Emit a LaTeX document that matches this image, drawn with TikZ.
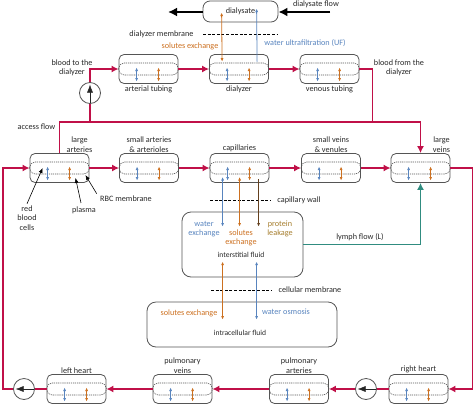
\documentclass[tikz,border=0pt]{standalone}
\usepackage{fontspec}
\setmainfont{Carlito}
\usetikzlibrary{arrows.meta}
\definecolor{crim}{RGB}{192,16,72}
\definecolor{wblue}{RGB}{88,132,190}
\definecolor{sorange}{RGB}{204,112,32}
\definecolor{pbrown}{RGB}{100,64,30}
\definecolor{ptext}{RGB}{165,125,45}
\definecolor{lteal}{RGB}{48,140,128}
\definecolor{boxgray}{RGB}{85,85,85}
\definecolor{txt}{RGB}{40,40,40}

\begin{document}
\begin{tikzpicture}[x=1pt,y=-1pt,font=\fontsize{8.2}{9.6}\selectfont,text=txt,
  >={Latex[length=3.5pt,width=3pt]},
  comp/.style={draw=boxgray,line width=0.8pt,rounded corners=5pt,minimum width=59pt,minimum height=29pt,inner sep=0pt},
  band/.style={draw=boxgray,line width=0.6pt,dash pattern=on 1.2pt off 0.9pt,rounded corners=5.5pt},
  lbl/.style={align=center,inner sep=1.6pt},
  toplbl/.style={lbl,yshift=-1pt},
  wat/.style={draw=wblue,line width=0.8pt},
  sol/.style={draw=sorange,line width=0.8pt},
  rl/.style={draw=crim,line width=1.8pt,-{Latex[length=7pt,width=7pt]}},
  rp/.style={draw=crim,line width=1.8pt},
  pump/.style={circle,draw=boxgray,line width=0.8pt,fill=white,minimum size=21pt,inner sep=0pt},
  pumparr/.style={draw=black!85,line width=0.5pt,-{Latex[length=8pt,width=6pt]}},
  blk/.style={draw=black,line width=2.2pt,-{Latex[length=9pt,width=9pt]}},
  memb/.style={draw=black,line width=0.9pt,dash pattern=on 3pt off 1.6pt},
  note/.style={draw=black,line width=0.6pt,-{Latex[length=5pt,width=4pt]}}]
  \useasboundingbox (0,0) rectangle (474,405);

  % dialysate side
  \node[draw=boxgray,line width=0.8pt,rounded corners=7pt,minimum width=75pt,minimum height=21pt] (dsat) at (240.5,11.5) {dialysate};
  \coordinate (dfin) at (330,12);
  \coordinate (dfout) at (168,12);
  \draw[blk] (dfin) -- (dsat.east |- dfin);
  \draw[blk] (dsat.west |- dfout) -- (dfout);
  \node (dflow) at (316,4) {dialysate flow};
  \draw[memb] (203,34) -- (278,34);
  \node[anchor=east] (dmemb) at (197,34) {dialyzer membrane};
  \node[text=sorange] (dsol) at (190,46) {solutes exchange};
  \node[text=wblue] (duf) at (305,43) {water ultrafiltration (UF)};

  % extracorporeal circuit
  \node[comp,label={[lbl]below:arterial tubing}] (art) at (148.5,69) {};
  \node[comp,label={[lbl]below:dialyzer}] (dia) at (239,69) {};
  \node[comp,label={[lbl]below:venous tubing}] (ven) at (329.5,69) {};
  \node[pump] (pumpA) at (90,93) {};
  \node[lbl] (bto) at (72,68) {blood to the\\dialyzer};
  \node[lbl] (bfrom) at (399,68) {blood from the\\dialyzer};

  % systemic circulation
  \node[comp,label={[toplbl,xshift=20pt]above:large\\arteries}] (la) at (59.5,168) {};
  \node[comp,label={[toplbl]above:small arteries\\\& arterioles}] (sa) at (149,168) {};
  \node[comp,label={[toplbl]above:capillaries}] (cap) at (239.5,168) {};
  \node[comp,label={[toplbl]above:small veins\\\& venules}] (sv) at (331,168) {};
  \node[comp,label={[toplbl,xshift=21pt]above:large\\veins}] (lv) at (420.5,168) {};
  \node (acc) at (36.5,127) {access flow};

  % pulmonary circulation
  \node[comp,label={[toplbl]above:left heart}] (lh) at (76.5,389) {};
  \node[comp,label={[toplbl]above:pulmonary\\veins}] (pv) at (182.5,389) {};
  \node[comp,label={[toplbl]above:pulmonary\\arteries}] (pa) at (299,389) {};
  \node[comp,label={[toplbl]above:right heart}] (rh) at (418.5,389) {};
  \node[pump] (pumpL) at (24,389) {};
  \node[pump] (pumpR) at (366,389) {};

  % bands and exchange arrows inside each compartment
  \foreach \n in {art,dia,ven,la,sa,cap,sv,lv,lh,pv,pa,rh}{
    \draw[band] ([yshift=6pt]\n.west) rectangle ([yshift=-6pt]\n.east);
    \draw[wat,<->] ([xshift=18pt,yshift=1.5pt]\n.west) -- ([xshift=18pt,yshift=-12.5pt]\n.west);
    \draw[sol,<->] ([xshift=40pt,yshift=1.5pt]\n.west) -- ([xshift=40pt,yshift=-12.5pt]\n.west);
  }

  % dialyzer exchange
  \draw[sol,<->] ([xshift=13pt,yshift=-7.5pt]dia.north west) -- ([xshift=19pt,yshift=-12pt]dsat.north west);
  \draw[wat,->] ([xshift=48pt,yshift=-7.5pt]dia.north west) -- ([xshift=54pt,yshift=-8pt]dsat.north west);

  % blood flow
  \coordinate (bus) at (0,122);
  \draw[rl] (la.north) |- (bus -| lv.north) -- (lv.north);
  \draw[rp] (pumpA.south) -- (pumpA.south |- bus);
  \draw[rl] (pumpA.north) |- (art.west);
  \draw[rl] (art.east) -- (dia.west);
  \draw[rl] (dia.east) -- (ven.west);
  \draw[rp] (ven.east) -- ++(13,0) -- ++(0,53);
  \draw[rl] (la.east) -- (sa.west);
  \draw[rl] (sa.east) -- (cap.west);
  \draw[rl] (cap.east) -- (sv.west);
  \draw[rl] (sv.east) -- (lv.west);
  \draw[rl] (lv.east) -- ++(22,0) |- (rh.east);
  \draw[rp] (rh.west) -- (pumpR.east);
  \draw[rl] (pumpR.west) -- (pa.east);
  \draw[rl] (pa.west) -- (pv.east);
  \draw[rl] (pv.west) -- (lh.east);
  \draw[rp] (lh.west) -- (pumpL.east);
  \draw[rl] (pumpL.west) -- ++(-10.5,0) |- (la.west);

  % pumps
  \draw[pumparr] ([yshift=1pt]pumpA.south) -- ([yshift=-2.5pt]pumpA.north);
  \draw[pumparr] ([xshift=-1pt]pumpL.east) -- ([xshift=2.5pt]pumpL.west);
  \draw[pumparr] ([xshift=-1pt]pumpR.east) -- ([xshift=2.5pt]pumpR.west);

  % blood compartments labels
  \node[lbl] (rbc) at (27,218) {red\\blood\\cells};
  \node (plas) at (84,210) {plasma};
  \node (rbcm) at (126,199) {RBC membrane};
  \draw[note] (rbc.north) -- ([xshift=13pt]la.west);
  \draw[note] ([xshift=-3pt]plas.north) -- ([xshift=16pt,yshift=5pt]la.south);
  \draw[note] ([yshift=-1pt]rbcm.north west) -- ([xshift=-4pt,yshift=-7pt]la.east);

  % interstitial fluid
  \node[draw=boxgray,line width=0.8pt,rounded corners=9pt,minimum width=121pt,minimum height=65pt] (isf) at (242.5,244.5) {};
  \node[lbl,text=wblue] (wex) at (204,229) {water\\exchange};
  \node[lbl,text=sorange] (sex) at (241,238) {solutes\\exchange};
  \node[lbl,text=ptext] (plk) at (280,229) {protein\\leakage};
  \node[font=\fontsize{7.6}{8}\selectfont] (isft) at (241,255) {interstitial fluid};
  \draw[memb] (210,200) -- (270,200);
  \node (capw) at (299,200) {capillary wall};
  \draw[wat,<->] ([xshift=13pt,yshift=-9pt]cap.west) -- ([xshift=41pt,yshift=-15pt]isf.north west);
  \draw[sol,<->] ([xshift=30pt,yshift=-9pt]cap.west) -- ([xshift=58pt,yshift=-15pt]isf.north west);
  \draw[draw=pbrown,line width=0.8pt,->] ([xshift=49pt,yshift=-11pt]cap.west) -- ([xshift=77pt,yshift=-15pt]isf.north west);
  \draw[draw=lteal,line width=1.8pt,-{Latex[length=7pt,width=7pt]}] (isf.east) -| (lv.south);
  \node (lymph) at (360,237) {lymph flow (L)};

  % intracellular fluid
  \node[draw=boxgray,line width=0.8pt,rounded corners=9pt,minimum width=190pt,minimum height=45pt] (icf) at (242,324.5) {};
  \node[text=sorange] (isol) at (189,313) {solutes exchange};
  \node[text=wblue] (iosm) at (286,312) {water osmosis};
  \node[font=\fontsize{7.6}{8}\selectfont] (icft) at (240,333) {intracellular fluid};
  \draw[memb] (211,290) -- (271,290);
  \node (cellm) at (310,290) {cellular membrane};
  \draw[sol,<->] ([xshift=41pt,yshift=-50pt]isf.north west) -- ([xshift=76pt,yshift=-18pt]icf.north west);
  \draw[wat,<->] ([xshift=75pt,yshift=-50pt]isf.north west) -- ([xshift=110pt,yshift=-18pt]icf.north west);
\end{tikzpicture}
\end{document}
